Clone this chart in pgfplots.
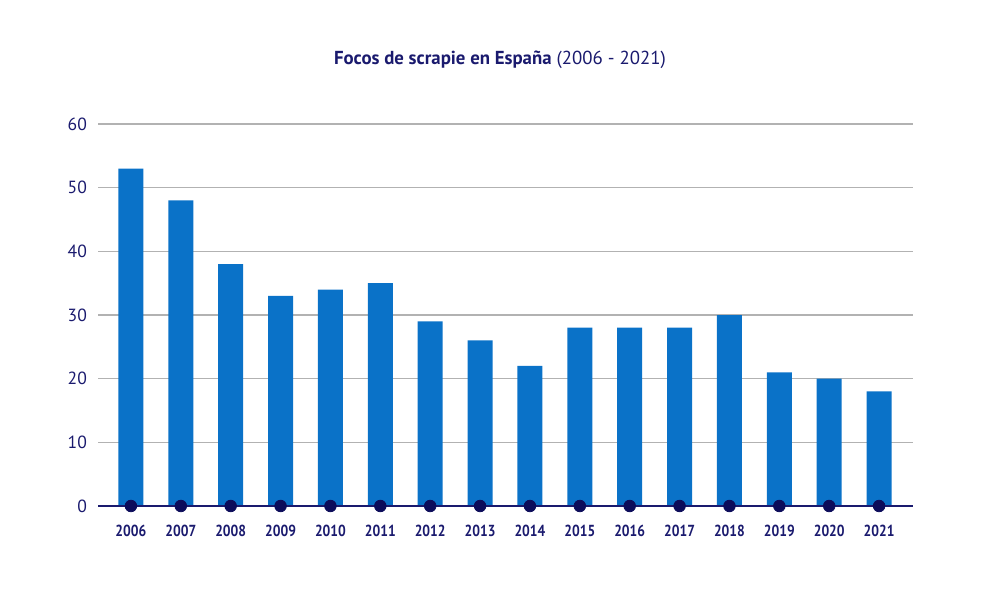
\documentclass[border=0pt]{standalone}
\usepackage{pgfplots}
\pgfplotsset{compat=1.18}
\usepackage{fontspec}
\setmainfont{PT Sans}
\definecolor{barblue}{RGB}{10,114,200}
\definecolor{navy}{RGB}{26,26,110}
\definecolor{dotnavy}{RGB}{12,12,90}
\definecolor{gridgray}{RGB}{178,178,178}
\begin{document}
\begin{tikzpicture}
\useasboundingbox (-49pt,-47pt) rectangle (451pt,253pt);
\begin{axis}[
  at={(0,0)}, anchor=south west,
  scale only axis,
  width=407.5pt, height=191pt,
  xmin=-0.66, xmax=15.68,
  ymin=0, ymax=60,
  ytick={0,10,...,60},
  xtick={0,...,15},
  xticklabels={2006,2007,2008,2009,2010,2011,2012,2013,2014,2015,2016,2017,2018,2019,2020,2021},
  axis line style={draw=none},
  major tick length=0pt,
  ymajorgrids,
  grid style={gridgray, line width=0.6pt},
  yticklabel style={font=\fontsize{8.8}{10}\selectfont, text=navy, xshift=-2pt},
  xticklabel style={font=\fontsize{8}{10}\selectfont\bfseries, text=navy, yshift=-6pt, xscale=0.85},
  /pgf/number format/assume math mode=true,
  clip=false,
]
\addplot[ybar, bar width=12.5pt, bar shift=0pt, fill=barblue, draw=none]
  coordinates {(0,53) (1,48) (2,38) (3,33) (4,34) (5,35) (6,29) (7,26) (8,22) (9,28) (10,28) (11,28) (12,30) (13,21) (14,20) (15,18)};
\draw[navy, line width=1pt] (axis cs:-0.66,0) -- (axis cs:15.68,0);
\addplot[only marks, mark=*, mark size=2.9pt, mark options={fill=dotnavy, draw=dotnavy}]
  coordinates {(0,0) (1,0) (2,0) (3,0) (4,0) (5,0) (6,0) (7,0) (8,0) (9,0) (10,0) (11,0) (12,0) (13,0) (14,0) (15,0)};
\end{axis}
\node[text=navy, font=\fontsize{9.4}{11}\selectfont] at (201pt,223pt) {\textbf{Focos de scrapie en España} (2006 - 2021)};
\end{tikzpicture}
\end{document}
